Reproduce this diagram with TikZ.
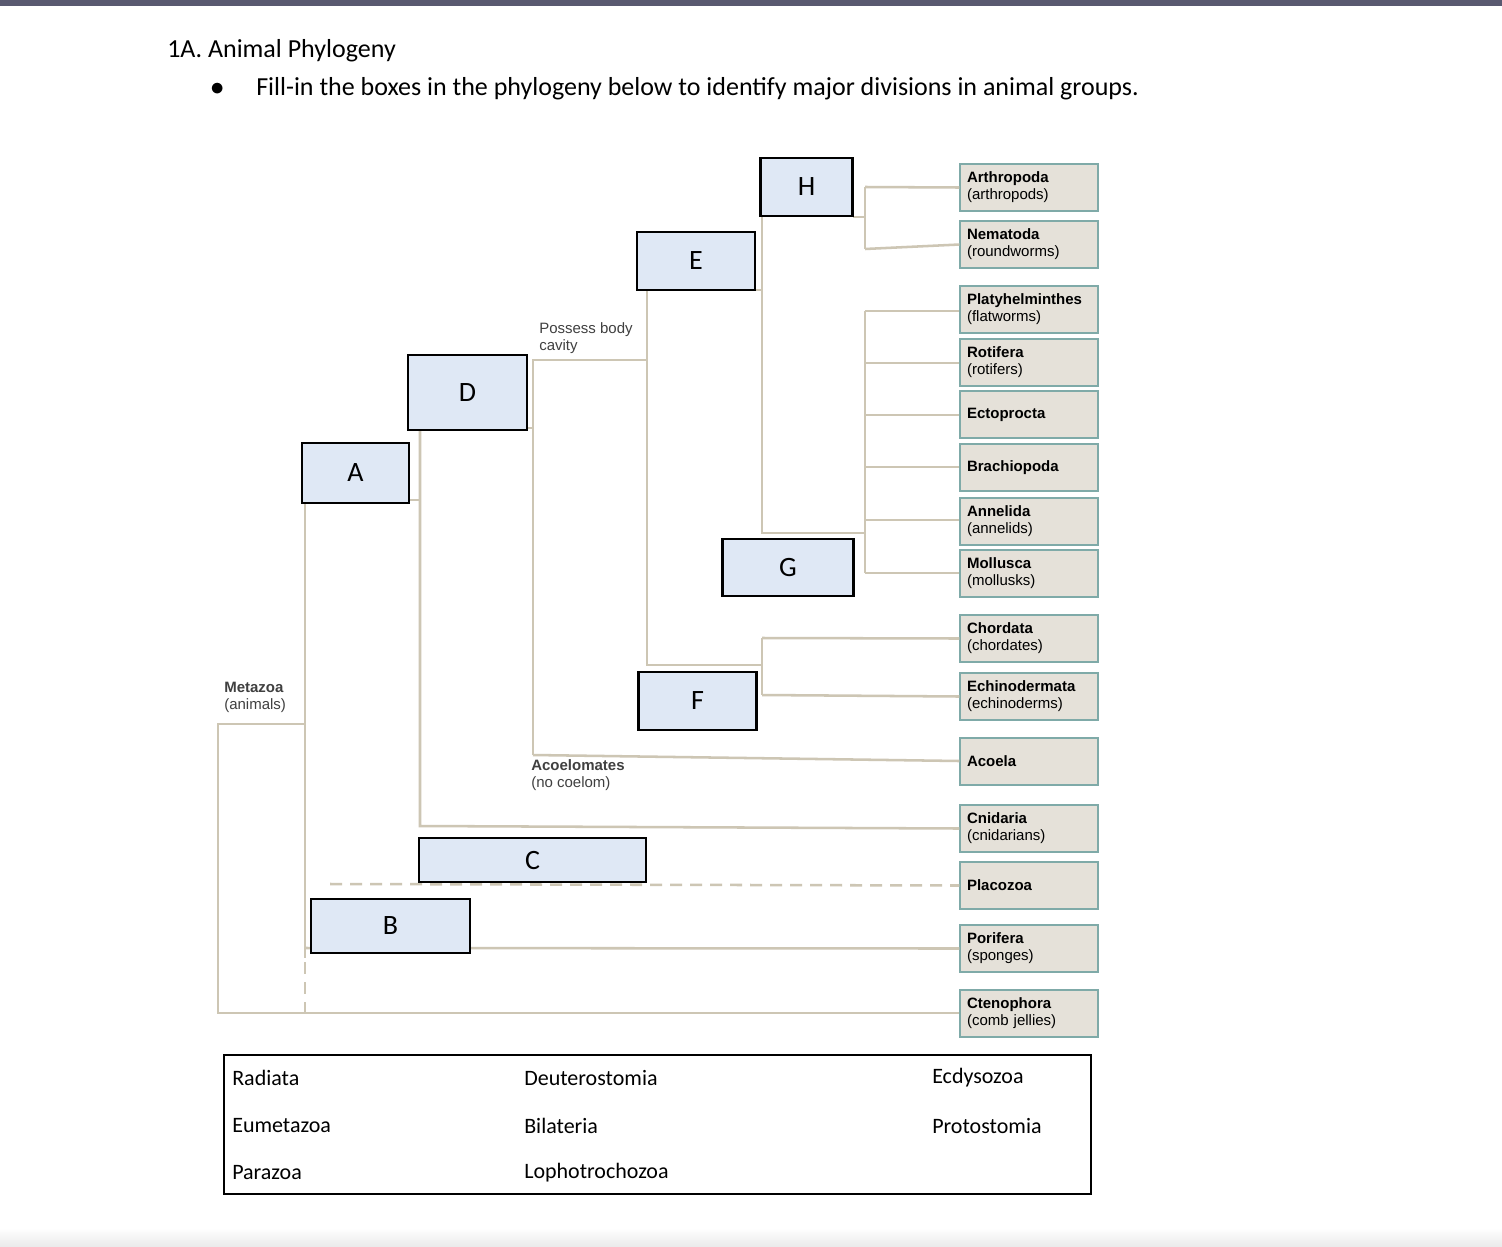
\documentclass[tikz,border=0pt]{standalone}
\usepackage{fontspec}
\setmainfont{Liberation Sans}
\newfontfamily\calfont{Carlito}
\begin{document}
\begin{tikzpicture}[x=0.75pt,y=-0.75pt,
  br/.style={draw=tanc,line width=1.9pt},
  brd/.style={br,dash pattern=on 9pt off 6pt},
  lbox/.style={draw=black,line width=2.2pt,fill=bluef,inner sep=0pt,font=\calfont\fontsize{21}{24}\selectfont},
  tax/.style={draw=tealc,line width=1.5pt,fill=taxf,inner xsep=5pt,inner ysep=0pt,text width=93pt,minimum height=35.25pt,align=left,font=\fontsize{11.25}{12.75}\selectfont},
  lab/.style={align=left,anchor=north west,inner sep=0pt,text=black!75,font=\fontsize{11.25}{12.75}\selectfont},
  leg/.style={anchor=west,inner sep=0pt,font=\calfont\fontsize{16.5}{19}\selectfont}]
\definecolor{tanc}{HTML}{CDC6B4}
\definecolor{bluef}{HTML}{DFE8F5}
\definecolor{tealc}{HTML}{7FAAA8}
\definecolor{taxf}{HTML}{E5E1D9}
\useasboundingbox (0,0) rectangle (1502,1246);
\fill[white] (0,0) rectangle (1502,1246);
\fill[fill=black!70!blue!30!gray] (0,0) rectangle (1502,6);
\shade[top color=white,bottom color=black!8] (0,1228) rectangle (1502,1246);
% title
\node[anchor=west,inner sep=0pt,font=\calfont\fontsize{19.5}{22}\selectfont] (title) at (167,51) {1A. Animal Phylogeny};
\node[anchor=west,inner sep=0pt,font=\calfont\fontsize{19.5}{22}\selectfont] (bul) at (210,89) {$\bullet$};
\node[anchor=west,inner sep=0pt,font=\calfont\fontsize{19.5}{22}\selectfont] (instr) at (256,89) {Fill-in the boxes in the phylogeny below to identify major divisions in animal groups.};
% taxa
\foreach \n/\y/\t in {arth/187.5/{\textbf{Arthropoda}\\(arthropods)},
 nema/244.5/{\textbf{Nematoda}\\(roundworms)},
 platy/309.5/{\textbf{Platyhelminthes}\\(flatworms)},
 roti/362.5/{\textbf{Rotifera}\\(rotifers)},
 ecto/414.5/{\textbf{Ectoprocta}},
 brach/467.5/{\textbf{Brachiopoda}},
 anne/521.5/{\textbf{Annelida}\\(annelids)},
 moll/573.5/{\textbf{Mollusca}\\(mollusks)},
 chor/638.5/{\textbf{Chordata}\\(chordates)},
 echi/696.5/{\textbf{Echinodermata}\\(echinoderms)},
 acoe/761/{\textbf{Acoela}},
 cnid/828.5/{\textbf{Cnidaria}\\(cnidarians)},
 plac/885.5/{\textbf{Placozoa}},
 pori/948.5/{\textbf{Porifera}\\(sponges)},
 cten/1013/{\textbf{Ctenophora}\\(comb jellies)}}
 {\node[tax] (\n) at (1029,\y) {\t};}
% tree
\draw[br] (218,724) -- (305,724);
\draw[br] (218,723) -- (218,1013) -- (cten.west);
\draw[br] (305,503) -- (305,958);
\draw[brd] (305,962) -- (305,1013);
\draw[br] (305,948) -- (pori.west);
\draw[brd] (330,884) -- (plac.west);
\draw[br] (409,500) -- (420,500);
\draw[br] (420,430) -- (420,826) -- (cnid.west);
\draw[br] (527,428) -- (533,428);
\draw[br] (533,755) -- (533,360) -- (647,360);
\draw[br] (533,755) -- (acoe.west);
\draw[br] (647,290) -- (647,665) -- (762,665);
\draw[br] (762,638) -- (762,695);
\draw[br] (762,638) -- (chor.west);
\draw[br] (762,695) -- (echi.west);
\draw[br] (755,290) -- (762,290);
\draw[br] (762,217) -- (762,533) -- (865,533);
\draw[br] (853,217) -- (865,217);
\draw[br] (865,187) -- (865,249);
\draw[br] (865,187) -- (arth.west);
\draw[br] (865,249) -- (nema.west);
\draw[br] (865,311) -- (865,573);
\foreach \n/\y in {platy/311,roti/363,ecto/415,brach/467,anne/520,moll/573}
  \draw[br] (865,\y) -- (\n.west |- 0,\y);
% blue boxes
\node[lbox,minimum width=69pt,minimum height=43.5pt] (H) at (806.5,187) {H};
\node[lbox,minimum width=88.5pt,minimum height=43.5pt] (E) at (696,261) {E};
\node[lbox,minimum width=89.25pt,minimum height=56.25pt] (D) at (467.5,392.5) {D};
\node[lbox,minimum width=80.25pt,minimum height=45pt] (A) at (355.5,473) {A};
\node[lbox,minimum width=98.25pt,minimum height=42.75pt] (G) at (788,567.5) {G};
\node[lbox,minimum width=88.5pt,minimum height=43.5pt] (F) at (697.5,701) {F};
\node[lbox,minimum width=170.25pt,minimum height=33pt] (C) at (532.5,860) {C};
\node[lbox,minimum width=119.25pt,minimum height=40.5pt] (B) at (390.5,926) {B};
% labels
\node[lab] (pbc) at (539,322) {Possess body\\cavity};
\node[lab] (acl) at (531,759) {\textbf{Acoelomates}\\(no coelom)};
\node[lab] (meta) at (224,682) {\textbf{Metazoa}\\(animals)};
% legend
\draw[line width=2.2pt] (224,1055) rectangle (1091,1194);
\node[leg] (l1) at (232,1078) {Radiata};
\node[leg] (l2) at (232,1126) {Eumetazoa};
\node[leg] (l3) at (232,1173) {Parazoa};
\node[leg] (l4) at (524,1078) {Deuterostomia};
\node[leg] (l5) at (524,1126) {Bilateria};
\node[leg] (l6) at (524,1173) {Lophotrochozoa};
\node[leg] (l7) at (932,1078) {Ecdysozoa};
\node[leg] (l8) at (932,1126) {Protostomia};
\end{tikzpicture}
\end{document}
